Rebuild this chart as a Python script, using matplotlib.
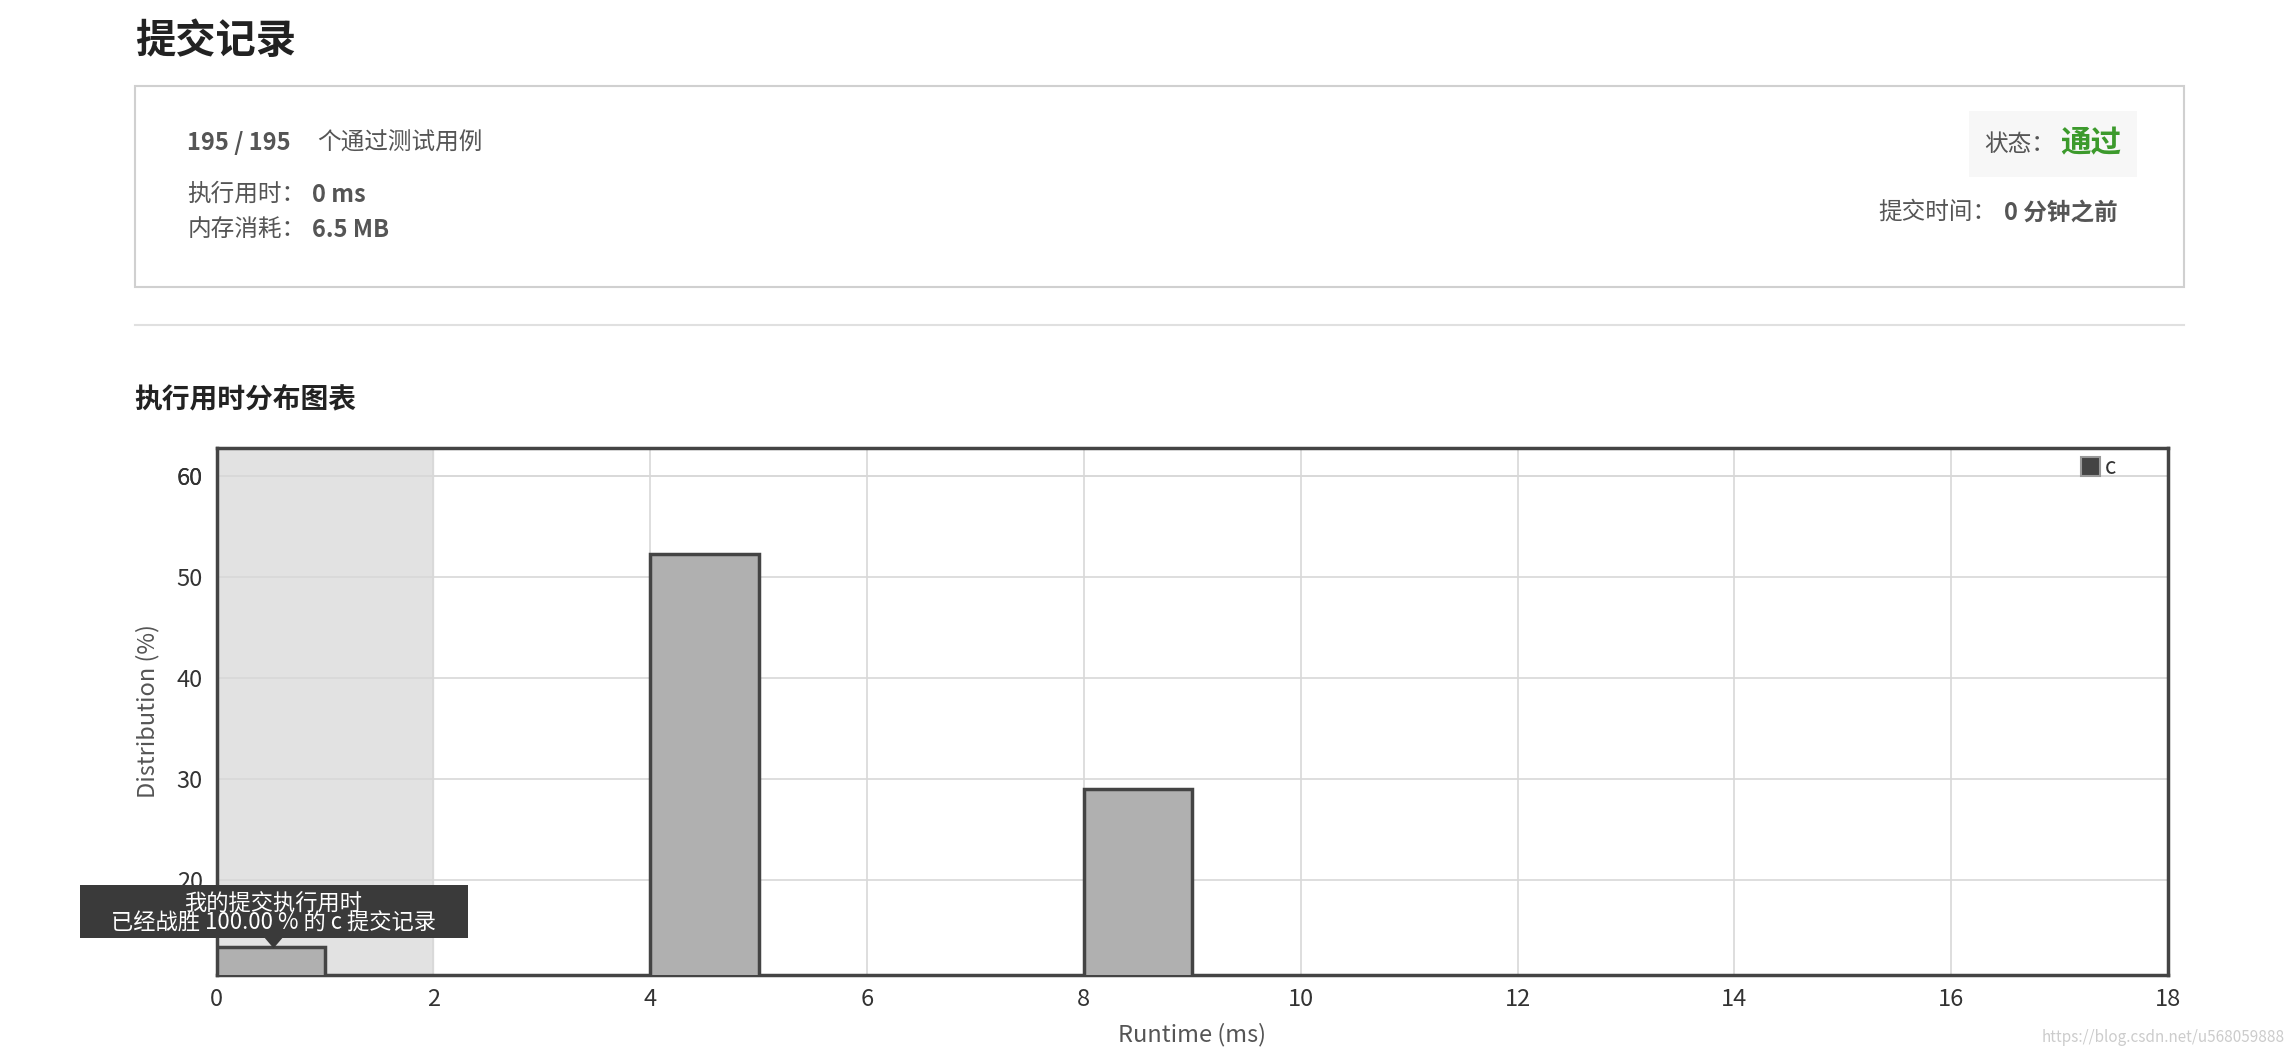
import matplotlib
matplotlib.use("Agg")
import matplotlib.pyplot as plt
from matplotlib.patches import Rectangle, Polygon

plt.rcParams['font.family'] = ['Noto Sans CJK SC', 'DejaVu Sans']

runtimes = [0, 4, 8]
distribution = [13.3, 52.2, 29.0]
xticks = [0, 2, 4, 6, 8, 10, 12, 14, 16, 18]
yticks = [20, 30, 40, 50, 60]

W, H = 1568, 723
def fx(x): return x / W
def fy(y): return 1 - y / H

fig = plt.figure(figsize=(22.94, 10.58), dpi=100)

# header
fig.text(fx(92), fy(28), "提交记录", fontsize=29, weight='bold', va='center', color='#222')
fig.patches.append(Rectangle((fx(92), fy(196)), fx(1493) - fx(92), fy(59) - fy(196),
                             transform=fig.transFigure, fill=False, ec='#d0d0d0', lw=1.5))
fig.text(fx(128), fy(98), "195 / 195", fontsize=17, weight='bold', va='center', color='#555')
fig.text(fx(217), fy(98), "个通过测试用例", fontsize=17, va='center', color='#555')
fig.text(fx(128), fy(133), "执行用时：", fontsize=17, va='center', color='#555')
fig.text(fx(213), fy(133), "0 ms", fontsize=17, weight='bold', va='center', color='#555')
fig.text(fx(128), fy(157), "内存消耗：", fontsize=17, va='center', color='#555')
fig.text(fx(213), fy(157), "6.5 MB", fontsize=17, weight='bold', va='center', color='#555')
fig.patches.append(Rectangle((fx(1346), fy(121)), fx(1461) - fx(1346), fy(76) - fy(121),
                             transform=fig.transFigure, fc='#f7f7f7', ec='none'))
fig.text(fx(1356), fy(99), "状态：", fontsize=17, va='center', color='#555')
fig.text(fx(1408), fy(98), "通过", fontsize=22, weight='bold', va='center', color='#3c9a2c')
fig.text(fx(1455), fy(145), "提交时间：", fontsize=17, va='center', ha='right', color='#555',
         alpha=0)  # placeholder for width
fig.text(fx(1284), fy(145), "提交时间：", fontsize=17, va='center', color='#555')
fig.text(fx(1370), fy(145), "0 分钟之前", fontsize=17, weight='bold', va='center', color='#555')
fig.lines.append(plt.Line2D([fx(92), fx(1493)], [fy(222), fy(222)], transform=fig.transFigure,
                            color='#e0e0e0', lw=1.5))
fig.text(fx(92), fy(273), "执行用时分布图表", fontsize=20, weight='bold', va='center', color='#222')

# chart
ax = fig.add_axes([fx(148), fy(666), fx(1482) - fx(148), fy(306) - fy(666)])
ax.axvspan(0, 2, color='#e2e2e2', zorder=0)
ax.bar(runtimes, distribution, width=1, align='edge', bottom=0, color='#b0b0b0',
       edgecolor='#444', linewidth=2.5, zorder=3)
ax.set_xlim(0, 18)
ax.set_ylim(10.6, 62.75)
ax.set_xticks(xticks)
ax.set_yticks(yticks + [60])
ax.grid(True, color='#d8d8d8', lw=1.2, zorder=1)
ax.set_axisbelow(True)
for s in ax.spines.values():
    s.set_color('#444')
    s.set_linewidth(2.5)
ax.tick_params(labelsize=17, colors='#333', length=0, pad=10)
ax.set_xlabel("Runtime (ms)", fontsize=17, color='#555', labelpad=8)
ax.set_ylabel("Distribution (%)", fontsize=17, color='#555', labelpad=12)

# legend
ax.add_patch(Rectangle((17.2, 60.0), 0.17, 1.8, fc='#444', ec='#999', lw=1.5, zorder=5, clip_on=False))
ax.text(17.42, 60.8, "c", fontsize=16, va='center', color='#333')

# tooltip
fig.patches.append(Rectangle((fx(55), fy(641)), fx(320) - fx(55), fy(605) - fy(641),
                             transform=fig.transFigure, fc='#3a3a3a', ec='none', zorder=10))
fig.patches.append(Polygon([(fx(181), fy(641)), (fx(193), fy(641)), (fx(187), fy(648))],
                           transform=fig.transFigure, fc='#3a3a3a', ec='none', zorder=10))
fig.text(fx(187), fy(618), "我的提交执行用时", fontsize=16, color='white', ha='center', va='center', zorder=11)
fig.text(fx(187), fy(631), "已经战胜 100.00 % 的 c 提交记录", fontsize=16, color='white',
         ha='center', va='center', zorder=11)

fig.text(fx(1562), fy(712), "https://blog.csdn.net/u568059888", fontsize=11, color='#ccc', ha='right')

fig.savefig("out.png", dpi=100)
